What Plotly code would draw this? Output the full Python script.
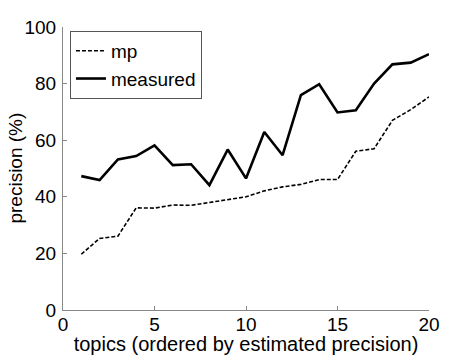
import plotly.graph_objects as go

topics = list(range(1, 21))
mp = [19.7, 25.3, 26.1, 36.1, 36.0, 37.1, 37.0, 38.0, 39.1, 40.0,
      42.1, 43.5, 44.4, 46.1, 46.1, 56.1, 57.0, 67.0, 70.8, 75.3]
measured = [47.3, 45.9, 53.2, 54.4, 58.2, 51.2, 51.5, 44.1, 56.7, 46.5,
            62.9, 54.7, 75.9, 79.8, 69.8, 70.6, 80.0, 86.8, 87.4, 90.4]
x_ticks = [0, 5, 10, 15, 20]
y_ticks = [0, 20, 40, 60, 80, 100]

fig = go.Figure()
fig.add_trace(go.Scatter(x=topics, y=mp, mode="lines", name="mp",
                         line=dict(color="black", width=1.6, dash="4px,2px")))
fig.add_trace(go.Scatter(x=topics, y=measured, mode="lines", name="measured",
                         line=dict(color="black", width=2.6)))

fam = "Liberation Sans, Arial, sans-serif"
fig.update_layout(
    width=474, height=355,
    margin=dict(l=63, r=45, t=27, b=45, autoexpand=False),
    paper_bgcolor="white", plot_bgcolor="white",
    font=dict(family=fam, size=19, color="black"),
    showlegend=True,
    legend=dict(x=0.019, y=0.986, xanchor="left", yanchor="top",
                bgcolor="white", bordercolor="#555555", borderwidth=1,
                font=dict(family=fam, size=19),
                tracegroupgap=0, itemwidth=30),
    xaxis=dict(range=[0, 20], tickvals=x_ticks, showgrid=False, zeroline=False,
               showline=True, linecolor="#888888", linewidth=1,
               ticks="inside", ticklen=4, tickcolor="#888888",
               automargin=False,
               title=dict(text="topics (ordered by estimated precision)",
                          standoff=0, font=dict(family=fam, size=20)),
               ticklabelstandoff=-3),
    yaxis=dict(range=[0, 100], tickvals=y_ticks, showgrid=False, zeroline=False,
               showline=True, linecolor="#888888", linewidth=1,
               ticks="inside", ticklen=4, tickcolor="#888888",
               automargin=False, ticklabelstandoff=2),
    annotations=[dict(text="precision (%)", xref="paper", yref="paper",
                      x=-0.131, y=0.5, xanchor="center", yanchor="middle",
                      textangle=-90, showarrow=False,
                      font=dict(family=fam, size=19, color="black"))],
)

fig.write_html("out.html", post_script="document.body.style.margin='0';",
               config={"displayModeBar": False})
